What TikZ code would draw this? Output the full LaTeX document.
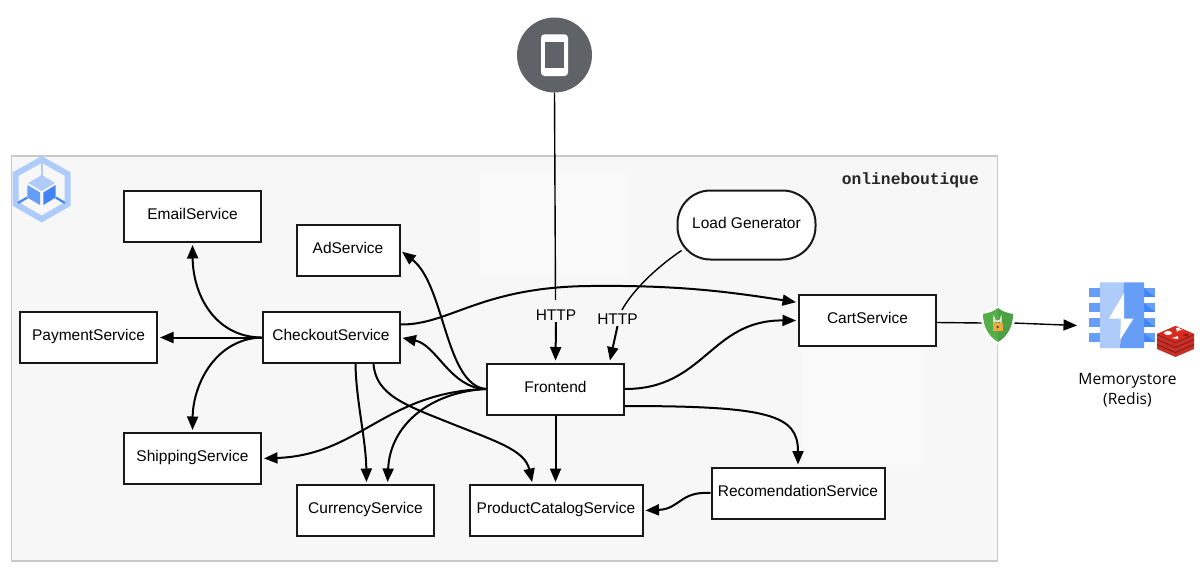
\documentclass[tikz,border=0pt]{standalone}
\usepackage{fontspec}
\setmainfont{Liberation Sans}
\newfontfamily\memofont{Open Sans}
\setmonofont{Liberation Mono}
\usetikzlibrary{arrows.meta,shapes.misc}
\definecolor{panelbg}{HTML}{F7F7F7}
\definecolor{panelfaint}{HTML}{F9F9F9}
\definecolor{panelln}{HTML}{C9C9C9}
\definecolor{gkelight}{HTML}{AECBFA}
\definecolor{gkemid}{HTML}{669DF6}
\definecolor{gkedark}{HTML}{4285F4}
\definecolor{phonegray}{HTML}{5F6368}
\definecolor{redisa}{HTML}{C6302B}
\definecolor{redisb}{HTML}{8E1A10}
\definecolor{redisc}{HTML}{D82C20}
\definecolor{shieldg}{HTML}{55AE47}
\definecolor{shieldd}{HTML}{4AA043}
\definecolor{lockc}{HTML}{F0A93A}
\tikzset{
  svc/.style={draw=black!90,fill=white,line width=2pt,minimum width=137pt,minimum height=51pt,inner sep=0pt,text height=12pt,text depth=6pt,xshift=-0.5pt,yshift=0.5pt,font=\fontsize{15.5}{18}\selectfont},
  conn/.style={line width=2pt,draw=black,-{Triangle[length=13.5pt,width=11pt]},shorten >=2pt},
  thinconn/.style={conn,line width=1.4pt},
  plain/.style={line width=1.4pt,draw=black},
  lbl/.style={fill=panelbg,inner sep=1.5pt,font=\fontsize{15.5}{18}\selectfont},
}
\begin{document}
\begin{tikzpicture}[x=1pt,y=-1pt]
\useasboundingbox (0,0) rectangle (1200,571);
\fill[white] (0,0) rectangle (1200,571);
% panel
\draw[fill=panelbg,draw=panelln,line width=1.4pt] (11.5,156) rectangle (997.5,561);
\fill[panelfaint] (480,172) rectangle (628,277);
\fill[panelfaint] (802,350) rectangle (925,465);
\node[font=\ttfamily\bfseries\fontsize{16.3}{18}\selectfont,text=black!85,anchor=east,inner sep=0pt] (title) at (979,180) {onlineboutique};
% GKE icon
\draw[gkelight,line width=6pt,miter limit=10] (41.7,159.5) -- (67.7,174) -- (67.7,204) -- (41.7,219) -- (15.7,204) -- (15.7,174) -- cycle;
\draw[gkelight,line width=2pt] (41.7,160) -- (41.7,176);
\fill[gkelight] (41.7,175) -- (55,183) -- (41.7,191) -- (28.3,183) -- cycle;
\fill[gkemid] (27.3,185) -- (40,192.5) -- (40,205) -- (27.3,197.5) -- cycle;
\fill[gkedark] (43.3,192.5) -- (55.7,185) -- (55.7,197.5) -- (43.3,205) -- cycle;
\draw[gkedark,line width=2.2pt] (18,203) -- (27.3,197.5);
\draw[gkedark,line width=2.2pt] (55.7,197.5) -- (65,203);
% phone
\node[circle,fill=phonegray,minimum size=75pt,inner sep=0pt] (phone) at (554.5,55) {};
\fill[white,rounded corners=3.5pt] (541,34.3) rectangle (568,76);
\fill[phonegray] (545.3,42.3) rectangle (563.5,68.3);
% services
\node[svc] (email) at (193,217) {EmailService};
\node[svc,minimum width=103pt] (ad) at (348.5,251) {AdService};
\node[svc] (payment) at (89,338) {PaymentService};
\node[svc] (checkout) at (331.5,338) {CheckoutService};
\node[svc] (frontend) at (556,389.5) {Frontend};
\node[svc] (cart) at (868,321) {CartService};
\node[svc] (shipping) at (193,459) {ShippingService};
\node[svc] (currency) at (366,511) {CurrencyService};
\node[svc,minimum width=173pt] (catalog) at (556.5,511) {ProductCatalogService};
\node[svc,minimum width=173pt] (reco) at (798.5,493.5) {RecomendationService};
\node[svc,rounded corners=33pt,minimum width=138pt,minimum height=69pt,text depth=5pt] (load) at (747,225.5) {Load Generator};
% checkout fan-out
\draw[conn] (checkout.west) .. controls (215,337) and (193,295) .. (email.south);
\draw[conn] (checkout.west) -- (payment.east);
\draw[conn] (checkout.west) .. controls (215,339) and (193,385) .. (shipping.north);
% frontend fan-out
\draw[conn] (frontend.west) .. controls (445,385) and (445,285) .. (ad.east);
\draw[conn] (frontend.west) .. controls (450,388) and (437,345) .. (checkout.east);
\draw[conn] (frontend.west) .. controls (385,392) and (360,455) .. (shipping.east);
\draw[conn] (frontend.west) .. controls (430,392) and (390,425) .. ([xshift=22pt]currency.north);
\draw[conn] (frontend.south) -- ([xshift=-0.5pt]catalog.north);
\draw[conn] (frontend.east) .. controls (705,389) and (710,320) .. (cart.west);
\draw[conn] ([yshift=-17pt]frontend.east) .. controls (770,406) and (798,415) .. (reco.north);
% checkout others
\draw[conn] ([xshift=24.5pt]checkout.south) .. controls (356,400) and (366,440) .. ([xshift=1pt]currency.north);
\draw[conn] ([xshift=42.5pt]checkout.south) .. controls (376,395) and (405,405) .. (450,423) .. controls (495,441) and (525,450) .. ([xshift=-23.5pt]catalog.north);
\draw[conn] ([yshift=13pt]checkout.east) .. controls (450,325) and (480,287) .. (590,286) .. controls (680,285) and (730,292) .. ([yshift=18pt]cart.west);
\draw[conn] (reco.west) .. controls (680,491) and (680,509) .. (catalog.east);
% ingress
\coordinate (redisin) at (1077,325.5);
\draw[plain] (phone.south) -- (555.5,300);
\node[lbl] (http1) at (556,315) {HTTP};
\draw[conn] (http1.south) -- (frontend.north);
\draw[plain] (load.south west) ++(5,-10) .. controls (650,272) and (630,295) .. (622,310);
\node[lbl] (http2) at (617.5,319) {HTTP};
\draw[conn] (http2.south) -- ([xshift=54pt]frontend.north);
% cart to redis
\node[inner sep=0pt,minimum size=30pt] (shield) at (998,323) {};
\draw[plain] ([yshift=-2pt]cart.east) -- (shield.west);
\draw[thinconn,shorten >=0pt] (shield.east) -- (redisin);
\fill[white] (998,306) .. controls (1003,310) and (1010,311) .. (1016,312) .. controls (1016,325) and (1010,338) .. (998,345) .. controls (986,338) and (980,325) .. (980,312) .. controls (986,311) and (993,310) .. (998,306) -- cycle;
\fill[shieldd] (998,308) .. controls (1003,312) and (1008,313) .. (1013,314) .. controls (1013,326) and (1008,336) .. (998,342) -- cycle;
\fill[shieldg] (998,308) .. controls (993,312) and (988,313) .. (983,314) .. controls (983,326) and (988,336) .. (998,342) -- cycle;
\draw[white!85!lockc,line width=1.4pt] (994,323) -- (994,318) arc[start angle=180,end angle=0,radius=3.5] -- (1001,323);
\fill[lockc] (992.5,323) rectangle (1003,331);
\fill[black!70] (997.7,327) circle (1.3);
% chip
\foreach \y in {288.3,303.3,318.3,333.3}{
  \fill[gkemid] (1089,\y) rectangle (1100,\y+8.5);
  \fill[gkemid] (1144,\y) rectangle (1155,\y+8.5);
  \fill[gkedark] (1144,\y) -- (1155,\y+8.5) -- (1144,\y+8.5) -- cycle;
}
\fill[gkelight] (1100,282.3) -- (1124,282.3) -- (1120,348) -- (1100,348) -- cycle;
\fill[gkemid] (1124,282.3) -- (1144,282.3) -- (1144,348) -- (1120,348) -- cycle;
\fill[white] (1124,293) -- (1109,318.5) -- (1121,318.5) -- (1120,340) -- (1133.5,318.5) -- (1124,318.5) -- cycle;
% redis stack
\fill[redisa] (1157,334) -- (1175.5,326) -- (1194,334) -- (1194,349) -- (1175.5,357) -- (1157,349) -- cycle;
\foreach \y in {0,5,10}{
  \draw[redisb,line width=1pt] (1157,334.5+\y) -- (1175.5,342.5+\y) -- (1194,334.5+\y);
}
\fill[redisc] (1157,334) -- (1175.5,326) -- (1194,334) -- (1175.5,342) -- cycle;
\fill[white] (1168,333) ellipse (4 and 2);
\fill[white] (1176,328) -- (1180,327.5) -- (1179.5,329) -- (1183,330) -- (1178.5,330.5) -- (1177,332) -- cycle;
\fill[white] (1172,338) -- (1178,336) -- (1178,339) -- cycle;
\fill[redisb] (1182,335) -- (1188,333.5) -- (1188,336.5) -- cycle;
% label
\node[font=\memofont\fontsize{15.6}{20}\selectfont,align=center,inner sep=0pt] (memo) at (1127.5,390) {Memorystore\\(Redis)};
\end{tikzpicture}
\end{document}
